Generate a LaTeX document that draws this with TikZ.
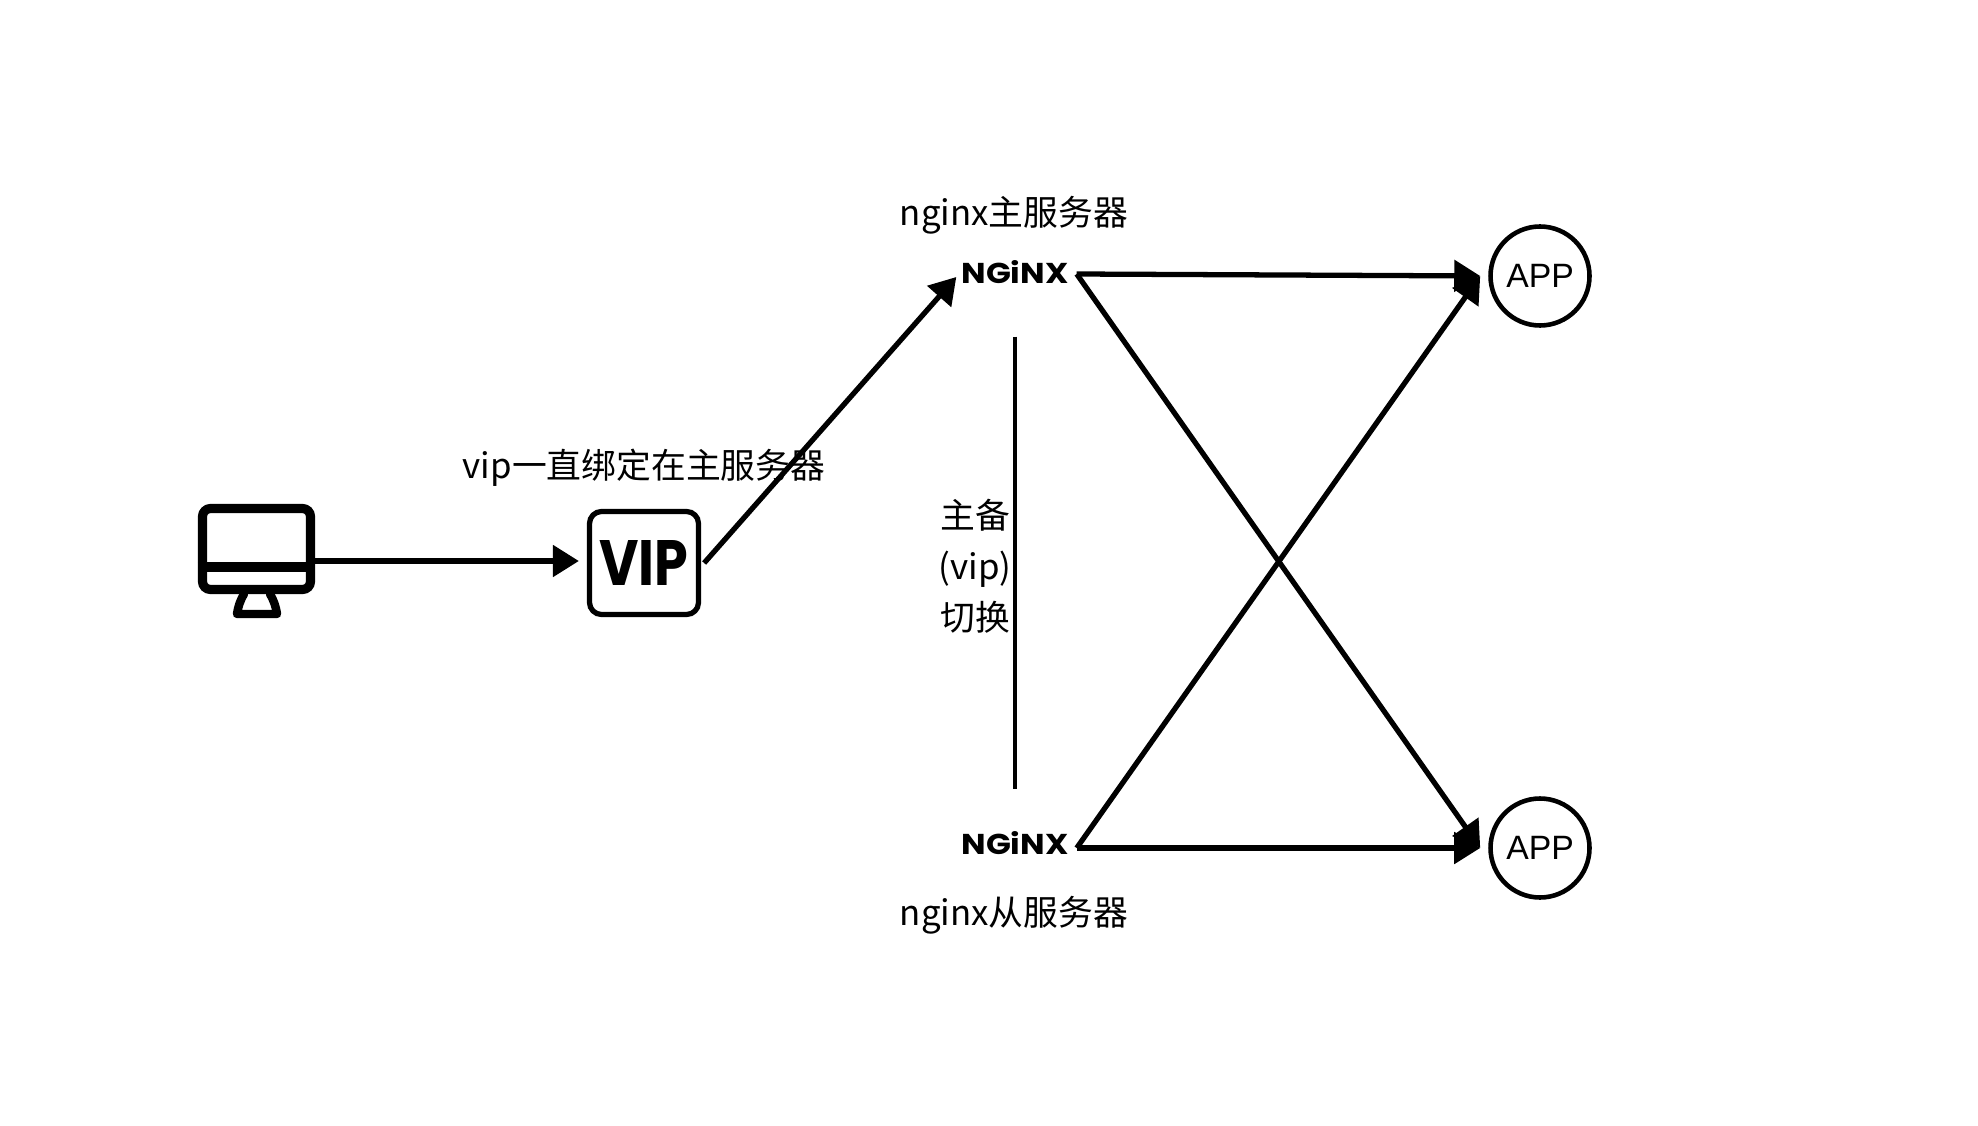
\documentclass[tikz,border=0pt]{standalone}
\usepackage{fontspec}
\setmainfont{Noto Sans CJK SC}
\newfontfamily\applabel{Liberation Sans}
\newfontfamily\logolabel{Poppins}
\usetikzlibrary{arrows.meta}
\newcommand{\nginxlogo}[1]{\raisebox{#1}[0.23cm][0pt]{\resizebox{1.07cm}{0.23cm}{\logolabel\bfseries NGiNX}}}
\begin{document}
\begin{tikzpicture}
\tikzstyle{every node}=[font=\fontsize{9.9}{12}\selectfont];
\tikzstyle{link}=[line width=1.5pt];
\tikzstyle{arrow}=[link,-{Triangle[length=0.26cm,width=0.31cm]},shorten >=0.08cm];
\tikzstyle{logo}=[minimum width=1.22cm,minimum height=0.3cm,inner sep=0pt];
\tikzstyle{app}=[circle,draw,line width=1.3pt,minimum size=0.99cm,inner sep=0pt,font=\fontsize{9.6}{12}\selectfont\applabel];

  \useasboundingbox (0,0) rectangle (19.78,11.25);

  \node (pc) at (2.565,5.76) [draw,line width=2.6pt,rounded corners=0.08cm,minimum width=1.08cm,minimum height=0.81cm] {};
  \node (vip) at (6.44,5.62) [draw,line width=1.5pt,rounded corners=0.12cm,minimum width=1.09cm,minimum height=1.03cm,inner sep=0pt] {\resizebox{0.89cm}{0.45cm}{\logolabel\bfseries VIP}};
  \node (master) at (10.15,8.51) [logo] {\nginxlogo{0.02cm}};
  \node (slave) at (10.15,2.77) [logo] {\nginxlogo{0.05cm}};
  \node (app1) at (15.40,8.49) [app] {\raisebox{-0.01cm}{APP}};
  \node (app2) at (15.40,2.77) [app] {\raisebox{-0.01cm}{APP}};

  % monitor
  \draw [line width=2.6pt] (pc.west |- 0,5.58) -- (pc.east |- 0,5.58);
  \draw [line width=2.4pt,line join=round,line cap=round] (2.44,5.31) to[bend right=10] (2.37,5.11) -- (2.77,5.11) to[bend right=10] (2.70,5.31);

  \node (masterlabel) at (10.14,9.10) {nginx主服务器};
  \node (slavelabel) at (10.14,2.10) {nginx从服务器};
  \node (viplabel) at (6.44,6.57) {vip一直绑定在主服务器};
  \node (switchlabel) at (9.75,5.59) [align=center,inner sep=0pt] {主备\\[0.09cm](vip)\\[0.09cm]切换};

  \draw [arrow] ([yshift=0.02cm]pc.east |- vip.west) -- ([yshift=0.02cm]vip.west);
  \draw [arrow,shorten >=0pt] ([xshift=0.03cm]vip.east) -- ([xshift=0.03cm,yshift=-0.03cm]master.west);

  \foreach \from/\to in {master/app1, slave/app2}
\draw [arrow] (\from.east) -- (\to.west);

  \foreach \from/\to in {master/app2, slave/app1}
\draw [arrow,shorten >=0pt] (\from.east) -- ([xshift=-0.08cm]\to.west);

  \draw [line width=1.2pt] ([yshift=-0.47cm]master.south) -- ([yshift=0.43cm]slave.north);

\end{tikzpicture}
\end{document}
